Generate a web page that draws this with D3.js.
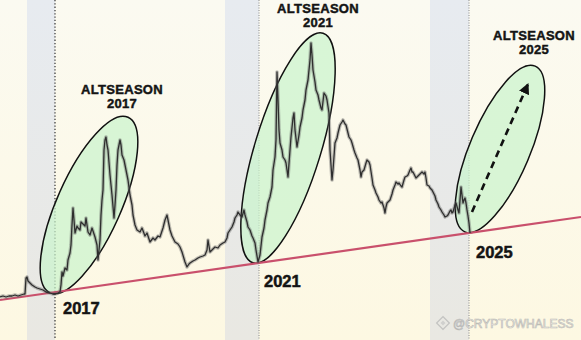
<!DOCTYPE html>
<html><head><meta charset="utf-8">
<script src="https://cdn.jsdelivr.net/npm/d3@7"></script>
<style>html,body{margin:0;padding:0;background:#fcfaee;} svg{display:block}</style>
</head><body><svg id="c" width="581" height="340"></svg>
<script>
// ---- data (x = week index, value = relative altcoin index) ----
const weeks = [0,3,6,9,12,15,18,21,24,25,26,27,28,30,32,35,37,40,43,46,50,53,55,58,60,61,62,63,65,67,68,70,71,72,73,74,75,77,78,80,81,83,85,86,88,90,92,95,97,98,99,100,101,102,103,104,105,106,107,108,110,112,114,115,116,117,118,120,121,122,124,126,128,130,132,133,135,137,140,142,145,147,150,153,155,158,160,163,165,167,169,170,172,175,178,180,182,185,187,189,190,193,195,198,200,203,205,207,208,209,210,213,215,218,220,223,225,227,228,230,232,234,235,237,238,240,242,244,245,247,248,250,252,253,255,256,258,260,262,264,265,267,268,270,272,273,275,276,277,278,279,280,282,283,285,286,288,290,291,293,294,295,297,299,300,302,303,305,306,308,309,310,311,312,313,315,316,318,319,321,322,324,326,327,329,330,331,332,333,335,337,338,340,342,343,345,346,348,349,351,352,354,355,357,358,360,361,362,364,366,367,369,370,372,373,375,376,378,379,381,382,384,385,386,387,389,390,392,393,395,396,398,399,401,402,404,405,407,408,410,411,412,413,415,416,418,419,421,422,424,425,426,427,429,430,432,433,435,436,438,439,441,442,444,445,447,448,450,451,452,453,455,456,458,459,460,461,462,463,464,465,466,467,468,469,470];
const values = [23,24,23,24,24,25,24,25,26,26,42,43,39,37,35,33,32,31,30,28,27,26,26,27,28,35,48,44,52,50,60,67,75,95,112,100,87,94,92,90,98,96,94,102,88,85,92,83,75,60,70,80,105,120,130,170,180,183,175,170,145,125,102,115,130,155,170,180,175,165,160,150,140,125,115,105,95,90,88,92,84,87,78,82,80,84,83,92,100,105,95,90,84,78,76,73,68,58,53,56,57,59,60,62,63,64,65,70,80,74,68,71,73,72,75,77,78,82,87,90,93,98,102,105,108,105,103,110,105,98,93,90,84,82,77,70,58,65,83,92,100,110,117,123,133,150,163,180,248,220,190,177,170,163,160,157,143,170,183,202,207,190,173,185,193,202,210,220,230,240,250,260,277,265,250,238,230,225,220,212,210,227,224,220,207,170,155,140,150,177,182,187,195,198,200,196,195,187,183,180,177,170,167,162,160,150,143,148,150,157,160,158,155,142,135,130,127,123,120,117,118,112,107,113,117,119,120,126,130,135,138,136,137,134,133,140,143,144,145,150,152,148,148,144,142,144,145,147,148,146,148,142,135,134,132,130,128,124,120,116,113,110,108,105,103,104,105,109,110,107,108,115,117,110,107,120,133,125,117,120,122,117,110,104,97,87];
const bandStartWeeks = [27, 225, 430];
const cycleBottomWeeks = [55, 259, 469];
const cycleLabels = ["2017", "2021", "2025"];
const seasonTitle = "ALTSEASON";
const trendWeeks = [0, 581];
const trendValues = [20, 103];
const arrowWeeks = [472, 528];
const arrowValues = [108, 236];
const watermark = "@CRYPTOWHALESS";

// ---- layout / styles ----
const W = 581, H = 340;
const x = d3.scaleLinear().domain([0, 581]).range([0, 581]);
const y = d3.scaleLinear().domain([0, 300]).range([320, 20]);

const ellipses = [
  {cx: 89, cy: 115, rx: 32, ry: 96, rot: 24},
  {cx: 288, cy: 172, rx: 33, ry: 120, rot: 17},
  {cx: 500, cy: 171, rx: 30, ry: 90, rot: 23}
];
const titlePos = [{x: 122, y1: 94, y2: 108}, {x: 318, y1: 13, y2: 27}, {x: 534, y1: 40, y2: 54}];
const yearPos = [{x: 63, y: 314}, {x: 264, y: 287}, {x: 476, y: 258}];

const svg = d3.select("#c");
const defs = svg.append("defs");
const bg = defs.append("linearGradient").attr("id", "bg").attr("x1", 0).attr("y1", 0).attr("x2", 0).attr("y2", 1);
bg.append("stop").attr("offset", "0%").attr("stop-color", "#fbfaf1");
bg.append("stop").attr("offset", "100%").attr("stop-color", "#fdf8e2");
const bandG = defs.append("linearGradient").attr("id", "band").attr("x1", 0).attr("y1", 0).attr("x2", 0).attr("y2", 1);
bandG.append("stop").attr("offset", "0%").attr("stop-color", "#e7ebf0");
bandG.append("stop").attr("offset", "100%").attr("stop-color", "#e9e8e2");
defs.append("marker").attr("id", "ah").attr("viewBox", "0 0 10 10").attr("refX", 9).attr("refY", 5)
  .attr("markerWidth", 4.2).attr("markerHeight", 4.2).attr("markerUnits", "strokeWidth").attr("orient", "auto")
  .append("path").attr("d", "M0,0 L10,5 L0,10 Z").attr("fill", "#111");

svg.append("rect").attr("width", W).attr("height", H).attr("fill", "url(#bg)");

// bands
svg.selectAll("rect.band").data(bandStartWeeks).join("rect").attr("class", "band")
  .attr("x", (d) => x(d)).attr("y", 0)
  .attr("width", (d, i) => x(cycleBottomWeeks[i]) - x(d)).attr("height", H)
  .attr("fill", "url(#band)");

// dotted vertical lines
svg.selectAll("line.vd").data(cycleBottomWeeks).join("line").attr("class", "vd")
  .attr("x1", (d) => x(d)).attr("x2", (d) => x(d)).attr("y1", 0).attr("y2", H)
  .attr("stroke", (d, i) => i === 0 ? "#333" : "#8a8a8a")
  .attr("stroke-width", (d, i) => i === 0 ? 1.2 : 1)
  .attr("stroke-dasharray", (d, i) => i === 0 ? "1.3,2" : "1,1.5");

// ellipse fills
const eg = svg.selectAll("g.ell").data(ellipses).join("g").attr("class", "ell")
  .attr("transform", (d) => `translate(${x(d.cx)},${y(d.cy)}) rotate(${d.rot})`);
eg.append("ellipse").attr("rx", (d) => d.rx).attr("ry", (d) => d.ry)
  .attr("fill", "#c9f3cc").attr("fill-opacity", 0.7);

// trend line
svg.append("line")
  .attr("x1", x(trendWeeks[0])).attr("y1", y(trendValues[0]))
  .attr("x2", x(trendWeeks[1])).attr("y2", y(trendValues[1]))
  .attr("stroke", "#c9506c").attr("stroke-width", 2.2);

// price line
const pts = weeks.map((w, i) => [w, values[i]]);
const line = d3.line().x((d) => x(d[0])).y((d) => y(d[1]));
svg.append("path").datum(pts).attr("d", line).attr("fill", "none")
  .attr("stroke", "#666").attr("stroke-width", 3.6).attr("stroke-opacity", 0.4).attr("stroke-linejoin", "round");
svg.append("path").datum(pts).attr("d", line).attr("fill", "none")
  .attr("stroke", "#2e2e2e").attr("stroke-width", 1.3).attr("stroke-linejoin", "round");

// ellipse outlines
eg.append("ellipse").attr("rx", (d) => d.rx).attr("ry", (d) => d.ry)
  .attr("fill", "none").attr("stroke", "#111").attr("stroke-width", 1.5);

// dashed arrow
svg.append("line")
  .attr("x1", x(arrowWeeks[0])).attr("y1", y(arrowValues[0]))
  .attr("x2", x(arrowWeeks[1])).attr("y2", y(arrowValues[1]))
  .attr("stroke", "#111").attr("stroke-width", 2.6).attr("stroke-dasharray", "7,5")
  .attr("marker-end", "url(#ah)");

// titles
const font = "'Liberation Sans', Arial, sans-serif";
titlePos.forEach((p, i) => {
  const t = svg.append("text").attr("text-anchor", "middle").attr("font-family", font)
    .attr("font-weight", "bold").attr("font-size", 13).attr("fill", "#141414")
    .attr("stroke", "#141414").attr("stroke-width", 0.45).attr("letter-spacing", 0.3);
  t.append("tspan").attr("x", p.x).attr("y", p.y1).text(seasonTitle);
  t.append("tspan").attr("x", p.x).attr("y", p.y2).text(cycleLabels[i]);
});
yearPos.forEach((p, i) => {
  svg.append("text").attr("x", p.x).attr("y", p.y).attr("font-family", font)
    .attr("font-weight", "bold").attr("font-size", 16.5).attr("fill", "#141414")
    .attr("stroke", "#141414").attr("stroke-width", 0.5).text(cycleLabels[i]);
});

// watermark
const wm = svg.append("g").attr("opacity", 0.75);
wm.append("rect").attr("x", -4.5).attr("y", -4.5).attr("width", 9).attr("height", 9)
  .attr("transform", "translate(443,323) rotate(45)").attr("fill", "none").attr("stroke", "#b5b5b5").attr("stroke-width", 1.2);
wm.append("rect").attr("x", -1.8).attr("y", -1.8).attr("width", 3.6).attr("height", 3.6)
  .attr("transform", "translate(443,323) rotate(45)").attr("fill", "#c8c8c8");
wm.append("text").attr("x", 453).attr("y", 327.5).attr("font-family", font).attr("font-size", 12)
  .attr("fill", "#ffffff").attr("stroke", "#a8a8a8").attr("stroke-width", 0.7).text(watermark);
</script></body></html>
